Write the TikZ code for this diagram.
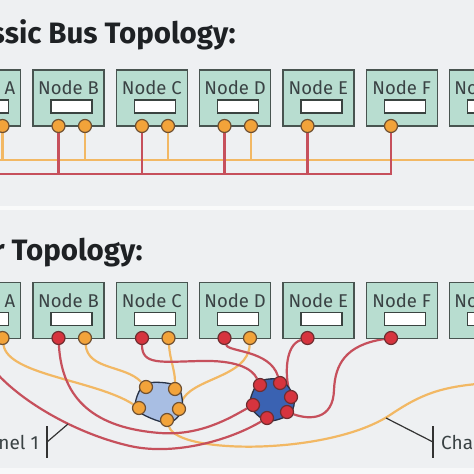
\documentclass[tikz,border=0pt]{standalone}
\usepackage{fontspec}
\setmainfont{Fira Sans}
\usepackage{tikz}

\definecolor{bgpanel}{RGB}{238,240,242}
\definecolor{mint}{RGB}{184,221,208}
\definecolor{boxline}{RGB}{72,84,80}
\definecolor{labeltext}{RGB}{58,66,68}
\definecolor{titletext}{RGB}{30,33,36}
\definecolor{portorange}{RGB}{242,163,58}
\definecolor{portred}{RGB}{214,52,62}
\definecolor{orangerim}{RGB}{110,80,50}
\definecolor{redrim}{RGB}{110,45,48}
\definecolor{cableorange}{RGB}{242,184,100}
\definecolor{cablered}{RGB}{198,80,92}
\definecolor{hublight}{RGB}{168,190,227}
\definecolor{hubdark}{RGB}{58,98,178}
\definecolor{hubrim}{RGB}{40,50,70}

\pgfdeclarelayer{back}
\pgfdeclarelayer{cables}
\pgfsetlayers{back,cables,main}

\tikzset{
  box/.style={draw=boxline, fill=mint, line width=1.4pt, minimum width=71pt, minimum height=56pt, inner sep=0pt,
    label={[boxlabel]center:#1}, label={[slot]center:}},
  boxlabel/.style={yshift=10pt, inner sep=0pt, font=\fontsize{18.5}{18.5}\selectfont, text=labeltext},
  slot/.style={xshift=3pt, yshift=-8.5pt, draw=boxline!80!black, fill=white, line width=1.2pt,
    minimum width=41pt, minimum height=13pt, inner sep=0pt},
  oport/.style={circle, draw=orangerim, fill=portorange, line width=1.2pt, minimum size=13pt, inner sep=0pt},
  rport/.style={circle, draw=redrim, fill=portred, line width=1.2pt, minimum size=13pt, inner sep=0pt},
  ocable/.style={draw=cableorange, line width=2.2pt},
  rcable/.style={draw=cablered, line width=2.2pt},
  title/.style={anchor=base east, inner sep=0pt, font=\bfseries\fontsize{29.5}{29.5}\selectfont, text=titletext},
  chanlabel/.style={inner xsep=8pt, inner ysep=0pt, minimum height=31pt, font=\fontsize{19}{19}\selectfont, text=labeltext},
  pointer/.style={draw=black!80, line width=1.2pt}
}

\begin{document}
\begin{tikzpicture}[x=1pt,y=-1pt]
    \useasboundingbox (0,0) rectangle (474,474);
    \begin{pgfonlayer}{back}
        \fill[bgpanel] (0,0) rectangle (474,474);
        \fill[white!65!bgpanel] (0,205.5) rectangle (474,209.5);
        \fill[white!50!bgpanel] (0,468) rectangle (474,474);
    \end{pgfonlayer}

    % classic bus
    \node[title] (titleBus) at (236,43) {Classic Bus Topology:};
    \node[box=Node A] (tA) at (-14.8,98) {};
    \node[box=Node B] (tB) at (68.5,98) {};
    \node[box=Node C] (tC) at (151.8,98) {};
    \node[box=Node D] (tD) at (235.1,98) {};
    \node[box=Node E] (tE) at (318.4,98) {};
    \node[box=Node F] (tF) at (401.7,98) {};
    \node[box=Node G] (tG) at (485,98) {};
    \node[oport] (tAo) at (2.5,126) {};
    \node[oport] (tBr) at (58.5,126) {};
    \node[oport] (tBo) at (85,126) {};
    \node[oport] (tCr) at (142,126) {};
    \node[oport] (tCo) at (168,126) {};
    \node[oport] (tDr) at (224.5,126) {};
    \node[oport] (tDo) at (251,126) {};
    \node[oport] (tEr) at (307.5,126) {};
    \node[oport] (tFr) at (391,126) {};
    \coordinate (obusW) at (-40,160);
    \coordinate (obusE) at (520,160);
    \coordinate (rbusW) at (-40,174);

    % star
    \node[title] (titleStar) at (143,260) {Star Topology:};
    \node[box=Node A] (bA) at (-14.8,310.5) {};
    \node[box=Node B] (bB) at (68.5,310.5) {};
    \node[box=Node C] (bC) at (151.8,310.5) {};
    \node[box=Node D] (bD) at (235.1,310.5) {};
    \node[box=Node E] (bE) at (318.4,310.5) {};
    \node[box=Node F] (bF) at (401.7,310.5) {};
    \node[box=Node G] (bG) at (485,310.5) {};

    \filldraw[fill=hublight, draw=hubrim, line width=1.3pt] plot[smooth cycle] coordinates {(145,384) (177,386) (182,410) (167,423) (136,409)};
    \filldraw[fill=hubdark, draw=hubrim, line width=1.3pt] plot[smooth cycle] coordinates {(259,382) (281,380) (294,397) (290,414) (267,421) (250,405)};

    \node[oport] (bAo) at (2.5,338) {};
    \node[rport] (bBr) at (58.5,338) {};
    \node[oport] (bBo) at (85,338) {};
    \node[rport] (bCr) at (142,338) {};
    \node[oport] (bCo) at (168.5,338) {};
    \node[rport] (bDr) at (224.5,338) {};
    \node[oport] (bDo) at (250,338) {};
    \node[rport] (bEr) at (307.5,338) {};
    \node[rport] (bFr) at (391,338) {};

    \node[oport] (hubL1) at (139,408) {};
    \node[oport] (hubL2) at (146,387) {};
    \node[oport] (hubL3) at (175,389) {};
    \node[oport] (hubL4) at (179,409) {};
    \node[oport] (hubL5) at (167,420) {};
    \node[rport] (hubD1) at (260,385) {};
    \node[rport] (hubD2) at (280,383) {};
    \node[rport] (hubD3) at (291,397) {};
    \node[rport] (hubD4) at (287,412) {};
    \node[rport] (hubD5) at (267,418) {};
    \node[rport] (hubD6) at (253,405) {};

    \coordinate (aRedW) at (-24,338);
    \coordinate (chan2E) at (490,383);
    \coordinate (c1tip) at (68,424);
    \coordinate (c2tip) at (386,418);

    \node[chanlabel, anchor=east] (chan1) at (47,442) {Channel 1};
    \node[chanlabel, anchor=west] (chan2) at (433,442) {Channel 2};
    \draw[pointer] (chan1.north east) -- (chan1.south east);
    \draw[pointer] (chan1.east) -- (c1tip);
    \draw[pointer] (chan2.north west) -- (chan2.south west);
    \draw[pointer] (chan2.west) -- (c2tip);

    \begin{pgfonlayer}{cables}
        \draw[ocable] (obusW) -- (obusE);
        \draw[rcable] (rbusW) -| (tFr);
        \draw[ocable] (tAo) -- (tAo |- obusW);
        \draw[ocable] (tBo) -- (tBo |- obusW);
        \draw[ocable] (tCo) -- (tCo |- obusW);
        \draw[ocable] (tDo) -- (tDo |- obusW);
        \draw[rcable] (tBr) -- (tBr |- rbusW);
        \draw[rcable] (tCr) -- (tCr |- rbusW);
        \draw[rcable] (tDr) -- (tDr |- rbusW);
        \draw[rcable] (tEr) -- (tEr |- rbusW);

        \draw[ocable] (bAo) .. controls (8,375) and (95,380) .. (hubL1);
        \draw[ocable] (bBo) .. controls (88,370) and (125,365) .. (hubL2);
        \draw[ocable] (bCo) .. controls (170,360) and (175,370) .. (hubL3);
        \draw[ocable] (bDo) .. controls (248,378) and (190,378) .. (hubL4);
        \draw[ocable] (hubL5) .. controls (178,455) and (330,455) .. (390,415) .. controls (420,395) and (440,386) .. (chan2E);
        \draw[rcable] (aRedW) .. controls (-15,380) and (60,430) .. (130,446) .. controls (175,456) and (230,440) .. (hubD5);
        \draw[rcable] (bBr) .. controls (62,400) and (95,428) .. (160,433) .. controls (200,436) and (230,418) .. (hubD6);
        \draw[rcable] (bCr) .. controls (142,365) and (160,362) .. (200,361) .. controls (235,360) and (252,368) .. (hubD1);
        \draw[rcable] (bDr) .. controls (228,352) and (270,350) .. (hubD2);
        \draw[rcable] (bEr) .. controls (285,345) and (285,375) .. (hubD3);
        \draw[rcable] (bFr) .. controls (345,345) and (335,365) .. (334,390) .. controls (333,420) and (310,420) .. (hubD4);
    \end{pgfonlayer}
\end{tikzpicture}
\end{document}
